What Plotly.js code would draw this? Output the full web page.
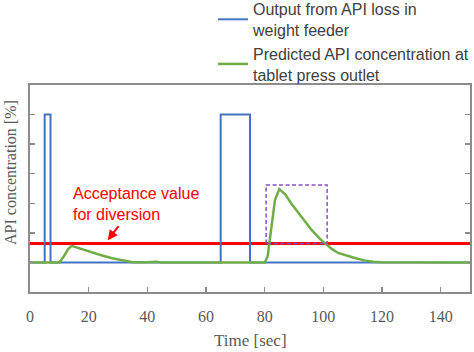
<!DOCTYPE html>
<html>
<head>
<meta charset="utf-8">
<script src="https://cdn.plot.ly/plotly-3.0.1.min.js"></script>
<style>html,body{margin:0;padding:0;background:#fff;}#chart{width:474px;height:352px;}</style>
</head>
<body>
<div id="chart"></div>
<script>
// Blue step signal: output from API loss-in-weight feeder
var feederTime = [0, 5, 7, 65, 75, 150];
var feederValue = [1, 6, 1, 6, 1, 1];

// Green curve: predicted API concentration at tablet press outlet
var predTime = [0, 10, 11.5, 13, 14.2, 16, 18, 21, 24, 28, 31, 35, 40, 43, 45, 80, 81, 81.6, 82.5, 83.5, 85, 87, 89, 91, 93, 96, 99, 101, 103, 105, 108, 111, 114, 117, 120, 124, 150];
var predValue = [1, 1, 1.2, 1.45, 1.56, 1.5, 1.44, 1.34, 1.25, 1.14, 1.08, 1.01, 1.01, 1.02, 1.0, 1.0, 1.2, 1.65, 2.4, 3.1, 3.48, 3.3, 3.0, 2.75, 2.5, 2.1, 1.78, 1.6, 1.45, 1.32, 1.22, 1.14, 1.07, 1.02, 1.01, 1.01, 1.0];

// Acceptance value for diversion
var limitTime = [0, 150];
var limitValue = [1.64, 1.64];

// Dashed box marking the diverted region
var boxTime = [80.5, 80.5, 101.3, 101.3, 80.5];
var boxValue = [1.64, 3.62, 3.62, 1.64, 1.64];

var xTicks = [0, 20, 40, 60, 80, 100, 120, 140];
var yTicks = [1, 2, 3, 4, 5, 6];

var legendNames = ["Output from API loss in<br>weight feeder", "Predicted API concentration at<br>tablet press outlet"];

var traces = [
  {x: limitTime, y: limitValue, mode: 'lines', line: {color: '#ff0000', width: 3}, showlegend: false, hoverinfo: 'skip'},
  {x: feederTime, y: feederValue, mode: 'lines', line: {color: '#4472c4', width: 2, shape: 'hv'}, name: legendNames[0]},
  {x: predTime, y: predValue, mode: 'lines', line: {color: '#70ad47', width: 2.5}, name: legendNames[1]},
  {x: boxTime, y: boxValue, mode: 'lines', line: {color: '#8a4fc8', width: 1.5, dash: '4px,2.5px'}, showlegend: false, hoverinfo: 'skip'}
];

var axisGray = '#8c8c8c';
var serif = '"Liberation Serif", "Times New Roman", serif';
var sans = '"Liberation Sans", Arial, sans-serif';
var layout = {
  width: 474, height: 352,
  margin: {l: 30, r: 4, t: 85, b: 60, pad: 0, autoexpand: false},
  paper_bgcolor: '#ffffff', plot_bgcolor: '#ffffff',
  showlegend: true,
  legend: {
    x: (213 - 30) / 440, xanchor: 'left',
    y: 1 + 93 / 207, yanchor: 'top',
    font: {family: sans, size: 16, color: '#404040'},
    bgcolor: 'rgba(0,0,0,0)', tracegroupgap: 10, traceorder: 'normal'
  },
  xaxis: {
    range: [0, 150], tickvals: xTicks, ticktext: xTicks.map(String),
    ticks: 'inside', ticklen: 5, tickcolor: axisGray, tickwidth: 1.5,
    showline: true, linecolor: axisGray, linewidth: 2, mirror: true,
    showgrid: false, zeroline: false, ticklabelstandoff: 9,
    tickfont: {family: serif, size: 16, color: '#595959'}
  },
  yaxis: {
    range: [0, 7], tickvals: yTicks, showticklabels: false,
    ticks: 'inside', ticklen: 5, tickcolor: axisGray, tickwidth: 1.5,
    showline: true, linecolor: axisGray, linewidth: 2, mirror: 'ticks',
    showgrid: false, zeroline: false
  },
  annotations: [
    {xref: 'paper', yref: 'paper', x: -20 / 440, xanchor: 'center', y: (292 - 173) / 207, yanchor: 'middle',
     text: 'API concentration [%]', textangle: -90,
     showarrow: false, font: {family: serif, size: 16, color: '#595959'}},
    {xref: 'paper', yref: 'paper', x: 220 / 440, xanchor: 'center', y: (292 - 340) / 207, yanchor: 'middle',
     text: 'Time [sec]', showarrow: false, font: {family: serif, size: 17, color: '#595959'}},
    {xref: 'x', yref: 'y', x: 14, y: 2.96, text: 'Acceptance value<br>for diversion', align: 'left', xanchor: 'left', yanchor: 'middle',
     showarrow: false, font: {family: sans, size: 16, color: '#ff0000'}},
    {xref: 'x', yref: 'y', x: 26.5, y: 1.75, ax: 30.6, ay: 2.28, axref: 'x', ayref: 'y', text: '',
     showarrow: true, arrowhead: 2, arrowsize: 1, arrowwidth: 2, arrowcolor: '#ff0000'}
  ]
};

Plotly.newPlot('chart', traces, layout, {displayModeBar: false, staticPlot: true});
</script>
</body>
</html>
